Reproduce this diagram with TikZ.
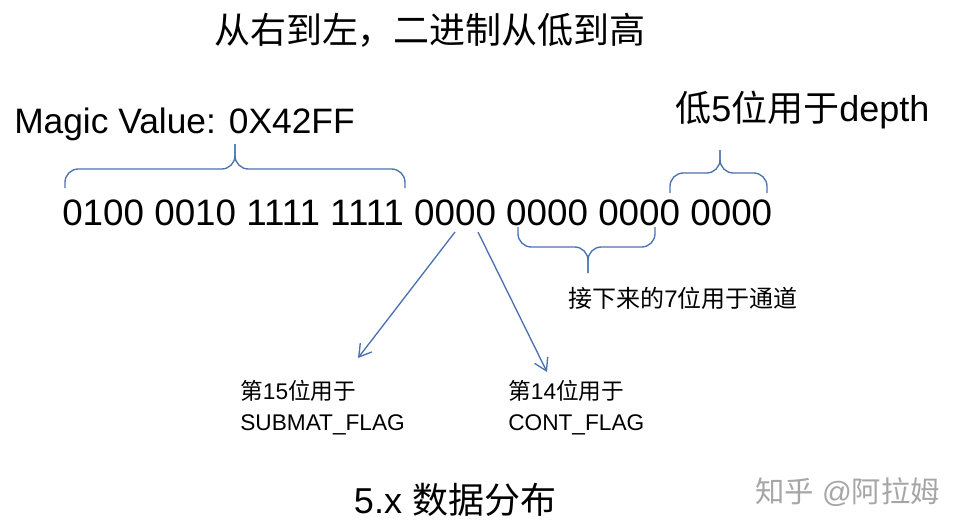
\documentclass[tikz,border=0pt]{standalone}
\usepackage{fontspec}
\setmainfont{Liberation Sans}
\newfontfamily\cjk{Noto Sans CJK SC}
\usetikzlibrary{arrows.meta}
\definecolor{bl}{HTML}{4A72B0}
\begin{document}
\begin{tikzpicture}[x=0.75pt,y=0.75pt,
  lbl/.style={inner sep=0pt,anchor=west},
  brc/.style={draw=bl,line width=1pt,rounded corners=10pt},
  arr/.style={draw=bl,line width=1pt,-{Straight Barb[length=9pt,width=11pt]}}]
\useasboundingbox (0,0) rectangle (958,-532);
\node[inner sep=0pt] (title) at (430,-30) {\fontsize{27}{30}\selectfont\cjk 从右到左，二进制从低到高};
\node[lbl] (magic) at (14,-124) {\fontsize{26.5}{30}\selectfont Magic Value: 0X42FF};
\node[lbl] (bits) at (62,-213) {\fontsize{27.6}{30}\selectfont 0100 0010 1111 1111 0000 0000 0000 0000};
\node[lbl] (low) at (675,-110) {\fontsize{27}{30}\selectfont{\cjk 低}5{\cjk 位用于}depth};
\node[lbl] (next) at (568,-298) {\fontsize{18}{20}\selectfont{\cjk 接下来的}7{\cjk 位用于通道}};
\node[lbl,align=left,anchor=north west,font=\fontsize{17}{23}\selectfont] (f15) at (240,-380) {{\cjk 第}15{\cjk 位用于}\\SUBMAT\_FLAG};
\node[lbl,align=left,anchor=north west,font=\fontsize{17}{23}\selectfont] (f14) at (508,-380) {{\cjk 第}14{\cjk 位用于}\\CONT\_FLAG};
\node[inner sep=0pt] (cap) at (455,-500) {\fontsize{27}{30}\selectfont 5.x {\cjk 数据分布}};
\node[lbl,text=black!35] (wm) at (755,-492) {\fontsize{22}{24}\selectfont{\cjk 知乎} @{\cjk 阿拉姆}};
% brace 1
\draw[brc] (65,-188) -- (65,-169) -- (235,-169) -- (235,-144);
\draw[brc] (405,-188) -- (405,-169) -- (235,-169) -- (235,-144);
% brace 2
\draw[brc] (670,-193) -- (670,-173) -- (720,-173) -- (720,-150);
\draw[brc] (767,-193) -- (767,-173) -- (720,-173) -- (720,-150);
% brace 3
\draw[brc] (518,-227) -- (518,-247) -- (588,-247) -- (588,-273);
\draw[brc] (655,-227) -- (655,-247) -- (588,-247) -- (588,-273);
\coordinate (s1) at (455,-232); \coordinate (e1) at (358,-358);
\coordinate (s2) at (478,-232); \coordinate (e2) at (547,-372);
\draw[arr] (s1) -- (e1);
\draw[arr] (s2) -- (e2);
\end{tikzpicture}
\end{document}
